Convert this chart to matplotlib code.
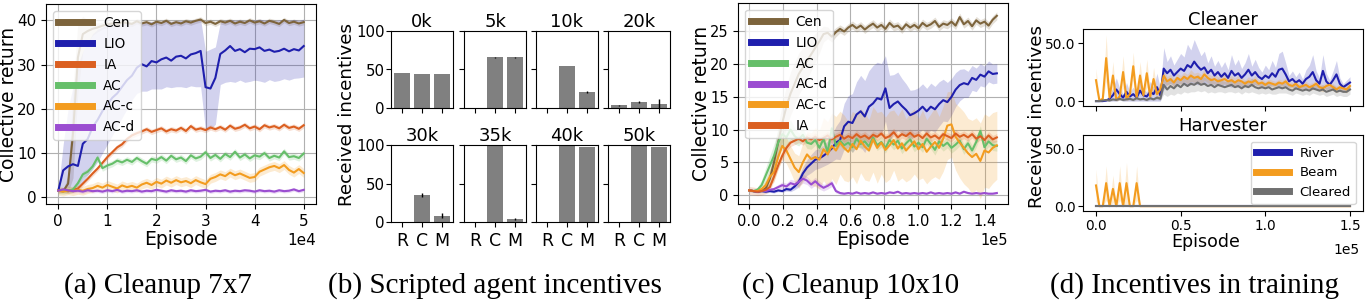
import numpy as np
import matplotlib

matplotlib.use("Agg")
import matplotlib.pyplot as plt
from matplotlib.ticker import FormatStrFormatter

W, H = 1365, 303

# ---------------- (a) Cleanup 7x7, one point every 1000 episodes ----------------
episodes_a = np.arange(51) * 1000
cen_a = [1.5, 1.4, 3.1, 14.4, 31.6, 36.9, 37.6, 38.1, 38.4, 38.8,
         39.1, 39.3, 39.0, 39.6, 39.4, 39.2, 39.8, 39.3, 39.6, 39.1,
         39.7, 39.4, 39.9, 39.2, 39.6, 39.3, 39.8, 39.5, 39.9, 40.2,
         39.4, 39.7, 39.2, 39.8, 39.5, 39.9, 39.3, 39.7, 39.4, 40.0,
         39.5, 39.8, 39.3, 39.9, 39.6, 39.2, 40.1, 39.4, 39.7, 39.3, 39.6]
cen_a_sd = [0.2, 0.3, 2.0, 10.0, 8.0, 4.0, 2.5, 1.5, 1.0, 0.8,
            0.7, 0.6, 0.6, 0.6, 0.6, 0.6, 0.6, 0.6, 0.6, 0.6,
            0.6, 0.6, 0.6, 0.6, 0.6, 0.6, 0.6, 0.6, 0.6, 0.6,
            0.6, 0.6, 0.6, 0.6, 0.6, 0.6, 0.6, 0.6, 0.6, 0.6,
            0.6, 0.6, 0.6, 0.6, 0.6, 0.6, 0.6, 0.6, 0.6, 0.6, 0.6]
lio_a = [1.5, 6.1, 7.0, 7.5, 7.1, 12.1, 13.2, 15.9, 17.5, 19.5,
         21.0, 22.5, 23.5, 25.0, 26.5, 27.5, 29.3, 30.1, 29.6, 30.8,
         30.5, 31.2, 31.6, 30.9, 31.8, 32.0, 31.4, 32.3, 32.6, 33.1,
         24.9, 24.6, 27.0, 32.4, 33.2, 34.2, 33.1, 33.5, 32.8, 33.6,
         33.5, 33.9, 33.1, 33.4, 32.9, 33.1, 33.6, 33.0, 33.5, 33.2, 34.2]
lio_a_lo = [1.2, 2.0, 2.2, 2.3, 2.5, 3.5, 5.0, 6.5, 8.0, 10.0,
            12.0, 14.0, 16.0, 18.0, 20.0, 22.0, 23.5, 24.0, 24.0, 24.5,
            24.5, 24.5, 25.0, 24.8, 25.0, 25.0, 24.8, 25.2, 25.0, 25.0,
            15.0, 15.5, 16.5, 25.5, 26.0, 26.2, 26.0, 26.5, 26.0, 26.2,
            26.5, 26.3, 26.0, 26.6, 26.2, 26.4, 26.8, 26.5, 26.9, 27.0, 27.2]
lio_a_hi = [1.8, 12.0, 20.0, 25.0, 30.0, 33.0, 35.0, 37.0, 38.0, 38.5,
            39.0, 39.0, 39.2, 39.3, 39.5, 39.5, 39.6, 39.8, 39.6, 39.8,
            39.7, 39.8, 39.9, 39.8, 39.9, 40.0, 39.8, 40.0, 40.1, 40.2,
            33.0, 33.5, 34.0, 39.5, 40.0, 40.2, 40.0, 40.1, 39.9, 40.2,
            40.1, 40.3, 40.0, 40.2, 39.9, 40.1, 40.3, 40.0, 40.2, 40.0, 40.3]
ia_a = [1.5, 1.6, 1.4, 1.7, 2.0, 3.1, 4.2, 5.4, 6.5, 7.8,
        9.1, 10.2, 11.3, 12.0, 13.2, 14.0, 14.5, 14.9, 15.4, 14.8,
        15.2, 15.6, 14.9, 15.4, 15.1, 15.7, 15.0, 16.1, 15.3, 15.6,
        15.2, 15.8, 15.4, 15.9, 15.3, 16.2, 15.5, 15.8, 16.4, 15.6,
        16.0, 15.4, 16.3, 15.8, 16.1, 15.6, 16.4, 15.7, 16.0, 15.5, 16.3]
ac_a = [1.5, 1.4, 1.6, 1.8, 3.2, 5.2, 5.8, 7.0, 9.0, 6.6,
        7.2, 7.6, 8.3, 7.9, 8.5, 8.0, 8.9, 8.2, 7.6, 8.7,
        8.4, 9.1, 8.3, 9.4, 8.6, 9.0, 8.2, 9.5, 8.8, 9.2,
        10.2, 8.9, 9.6, 8.7, 9.8, 9.1, 10.3, 9.0, 9.7, 8.8,
        9.5, 9.2, 10.0, 8.9, 9.4, 9.0, 10.4, 9.1, 9.3, 8.9, 9.9]
acc_a = [1.5, 1.3, 1.6, 1.4, 1.7, 1.5, 1.9, 2.1, 2.6, 2.2,
         2.8, 2.4, 2.0, 2.7, 2.3, 2.6, 2.2, 2.9, 3.3, 2.8,
         3.5, 3.1, 3.8, 3.3, 3.9, 3.4, 3.7, 3.2, 3.9, 3.4,
         3.0, 4.2, 4.6, 5.2, 4.8, 5.6, 5.0, 5.4, 4.9, 4.4,
         4.6, 5.8, 6.3, 6.8, 7.1, 6.6, 7.3, 6.2, 5.6, 6.4, 5.5]
acd_a = [1.5, 1.8, 1.6, 1.4, 1.5, 1.3, 1.6, 1.4, 1.5, 1.3,
         1.6, 1.4, 1.7, 1.3, 1.5, 1.4, 1.6, 1.3, 1.5, 1.4,
         1.7, 1.5, 1.3, 1.6, 1.4, 1.5, 1.3, 1.6, 1.4, 1.5,
         1.7, 1.3, 1.5, 1.4, 1.6, 1.3, 1.5, 1.4, 1.6, 1.5,
         1.3, 1.6, 1.4, 1.5, 1.3, 1.6, 1.4, 1.5, 1.8, 1.4, 1.7]
ia_a_sd, ac_a_sd, acc_a_sd, acd_a_sd = 0.6, 0.7, 1.0, 0.4

# ---------------- (b) Scripted agent incentives ----------------
snapshots = ["0k", "5k", "10k", "20k", "30k", "35k", "40k", "50k"]
recipients = ["R", "C", "M"]
incentive_mean = [[45.5, 44.2, 44.2], [0.0, 65.7, 65.7], [0.0, 54.5, 21.0],
                  [3.9, 7.7, 5.6], [0.0, 35.3, 8.2], [0.0, 100.0, 4.3],
                  [0.0, 100.0, 97.4], [0.0, 100.0, 97.4]]
incentive_err = [[0.3, 0.3, 0.3], [0.0, 0.5, 0.5], [0.0, 0.5, 1.2],
                 [0.6, 1.2, 6.0], [0.0, 2.5, 3.2], [0.0, 0.0, 1.2],
                 [0.0, 0.0, 0.5], [0.0, 0.0, 0.5]]

# ---------------- (c) Cleanup 10x10, one point every 2450 episodes ----------------
episodes_c = np.arange(61) * 2450
cen_c = [0.7, 0.6, 0.5, 0.7, 1.0, 2.5, 5.0, 8.0, 11.0, 13.5,
         15.5, 17.0, 18.5, 19.5, 20.5, 21.5, 22.5, 23.5, 24.6, 24.8,
         24.2, 24.9, 25.4, 25.0, 25.6, 26.0, 25.5, 25.9, 25.3, 25.8,
         26.2, 25.6, 26.0, 25.4, 26.3, 25.7, 25.9, 25.3, 26.1, 25.6,
         26.0, 25.5, 26.3, 25.8, 26.1, 26.6, 25.7, 26.2, 26.0, 26.5,
         25.9, 27.2, 26.1, 26.6, 25.8, 26.7, 26.2, 26.5, 25.9, 26.8, 27.4]
cen_c_sd = [0.1, 0.1, 0.1, 0.2, 0.4, 1.0, 1.8, 2.5, 3.0, 3.2,
            3.3, 3.3, 3.2, 3.0, 2.8, 2.5, 2.2, 1.8, 1.2, 0.9,
            0.8, 0.7, 0.6, 0.6, 0.6, 0.6, 0.6, 0.6, 0.6, 0.6,
            0.6, 0.6, 0.6, 0.6, 0.6, 0.6, 0.6, 0.6, 0.6, 0.6,
            0.6, 0.6, 0.6, 0.6, 0.6, 0.6, 0.6, 0.6, 0.6, 0.6,
            0.6, 0.6, 0.6, 0.6, 0.6, 0.6, 0.6, 0.6, 0.6, 0.6, 0.6]
lio_c = [0.7, 0.6, 0.5, 0.6, 0.5, 0.6, 0.5, 0.7, 0.6, 0.9,
         0.8, 1.3, 2.0, 3.3, 4.2, 4.8, 5.4, 5.6, 6.0, 6.5,
         7.1, 8.0, 8.4, 10.5, 11.2, 11.0, 12.3, 12.8, 12.0, 13.5,
         14.0, 14.8, 14.6, 16.3, 13.3, 13.9, 14.3, 13.6, 13.0, 12.2,
         12.5, 12.9, 13.5, 12.8, 13.5, 13.1, 13.9, 14.5, 14.2, 15.0,
         16.1, 16.8, 17.1, 16.9, 17.9, 17.6, 18.4, 18.1, 18.9, 18.5, 18.6]
lio_c_sd = [0.2, 0.2, 0.2, 0.2, 0.2, 0.2, 0.2, 0.2, 0.2, 0.3,
            0.3, 0.5, 0.8, 1.0, 1.2, 1.4, 1.5, 1.5, 1.6, 1.8,
            2.0, 2.5, 3.0, 3.5, 4.0, 4.5, 5.0, 5.5, 5.5, 5.5,
            5.8, 5.5, 5.5, 5.0, 5.0, 4.5, 4.5, 4.2, 4.0, 3.8,
            3.6, 3.5, 3.5, 3.5, 3.6, 3.5, 3.4, 3.2, 3.0, 2.8,
            2.6, 2.4, 2.2, 2.0, 1.9, 1.8, 1.7, 1.6, 1.6, 1.5, 1.5]
ac_c = [0.7, 0.6, 0.8, 1.5, 3.0, 4.5, 6.0, 8.0, 9.3, 8.8,
        10.0, 9.0, 8.5, 9.2, 8.0, 7.8, 8.4, 7.2, 8.6, 6.5,
        10.2, 7.5, 8.3, 7.6, 8.0, 7.3, 8.6, 7.8, 8.2, 7.4,
        8.8, 7.6, 8.1, 7.2, 8.4, 7.7, 8.3, 7.1, 7.9, 8.5,
        7.4, 8.0, 7.3, 8.6, 7.8, 6.9, 8.2, 7.5, 8.0, 7.2,
        7.7, 8.3, 7.0, 7.9, 6.8, 8.1, 9.8, 7.3, 8.2, 7.6, 7.5]
ac_c_sd = [0.1, 0.2, 0.4, 0.8, 1.2, 1.5, 1.8, 2.0, 2.0, 1.8,
           1.5, 1.2, 1.0, 1.0, 0.9, 0.8, 0.8, 0.8, 0.8, 0.8,
           0.8, 0.8, 0.8, 0.8, 0.8, 0.8, 0.8, 0.8, 0.8, 0.8,
           0.8, 0.8, 0.8, 0.8, 0.8, 0.8, 0.8, 0.8, 0.8, 0.8,
           0.8, 0.8, 0.8, 0.8, 0.8, 0.8, 0.8, 0.8, 0.8, 0.8,
           0.8, 0.8, 0.8, 0.8, 0.8, 0.8, 0.8, 0.8, 0.8, 0.8, 0.8]
acd_c = [0.7, 0.6, 0.5, 0.7, 0.6, 0.8, 0.9, 1.2, 1.5, 1.3,
         1.8, 1.6, 2.0, 2.5, 2.2, 1.6, 2.1, 1.5, 1.1, 1.4,
         1.8, 0.6, 0.3, 0.2, 0.3, 0.2, 0.4, 0.2, 0.3, 0.2,
         0.4, 0.2, 0.3, 0.2, 0.4, 0.3, 0.5, 0.2, 0.3, 0.2,
         0.3, 0.2, 0.3, 0.2, 0.4, 0.2, 0.3, 0.2, 0.3, 0.2,
         0.4, 0.2, 0.5, 0.3, 0.2, 0.3, 0.2, 0.3, 0.2, 0.2, 0.3]
acd_c_sd = [0.1, 0.1, 0.1, 0.1, 0.1, 0.2, 0.3, 0.4, 0.5, 0.5,
            0.6, 0.6, 0.6, 0.7, 0.6, 0.6, 0.6, 0.6, 0.5, 0.5,
            0.5, 0.3, 0.2, 0.15, 0.15, 0.15, 0.15, 0.15, 0.15, 0.15,
            0.15, 0.15, 0.15, 0.15, 0.15, 0.15, 0.15, 0.15, 0.15, 0.15,
            0.15, 0.15, 0.15, 0.15, 0.15, 0.15, 0.15, 0.15, 0.15, 0.15,
            0.15, 0.15, 0.15, 0.15, 0.15, 0.15, 0.15, 0.15, 0.15, 0.15, 0.15]
acc_c = [0.7, 0.6, 0.6, 0.9, 1.5, 2.8, 3.5, 5.8, 7.5, 6.8,
         5.5, 4.2, 3.5, 5.0, 6.2, 5.5, 5.8, 5.4, 7.0, 6.2,
         7.5, 6.8, 8.0, 7.2, 6.6, 7.8, 7.0, 8.3, 7.4, 6.8,
         8.5, 7.2, 8.0, 6.9, 7.6, 8.4, 7.1, 7.9, 6.8, 7.5,
         8.2, 7.0, 7.8, 6.6, 7.4, 8.1, 7.2, 8.6, 10.6, 10.8,
         8.9, 8.0, 7.2, 6.4, 5.8, 6.3, 5.2, 6.8, 6.5, 7.2, 7.6]
acc_c_sd = [0.1, 0.1, 0.2, 0.4, 0.8, 1.2, 1.5, 1.8, 2.0, 2.0,
            2.0, 2.2, 2.5, 3.0, 3.5, 4.0, 4.5, 4.5, 4.8, 5.0,
            5.0, 5.2, 4.8, 5.0, 4.6, 5.0, 5.3, 4.9, 5.1, 4.7,
            5.0, 5.4, 4.8, 5.0, 5.2, 4.6, 5.0, 5.3, 4.8, 5.1,
            5.0, 4.7, 5.2, 4.9, 5.0, 5.3, 4.8, 5.0, 5.2, 5.0,
            5.1, 5.4, 5.5, 5.3, 5.6, 5.5, 5.8, 5.6, 5.5, 5.4, 5.2]
ia_c = [0.7, 0.6, 0.5, 0.6, 0.8, 1.2, 2.8, 4.5, 6.0, 7.2,
        8.0, 8.3, 8.6, 8.2, 8.8, 8.5, 8.9, 8.4, 8.7, 9.1,
        8.5, 8.9, 9.2, 8.6, 9.0, 8.7, 9.3, 8.8, 9.1, 8.6,
        9.2, 8.9, 9.4, 8.7, 9.0, 9.6, 8.8, 9.3, 9.0, 9.5,
        8.9, 9.2, 8.7, 9.4, 8.8, 9.1, 8.6, 9.3, 9.0, 8.7,
        9.4, 8.9, 9.2, 8.8, 9.3, 8.6, 9.0, 8.4, 9.1, 8.5, 8.8]
ia_c_sd = 0.6

# ---------------- (d) Incentives in training, one point every 2000 episodes ----------------
episodes_d = np.arange(76) * 2000
clean_river = [0, 0, 0, 0.5, 2, 5, 10, 6, 3, 8,
               4, 6, 3, 9, 5, 4, 8, 6, 12, 5,
               28, 24, 27, 22, 25, 28, 26, 31, 29, 34,
               30, 27, 29, 24, 27, 22, 25, 21, 24, 20,
               26, 22, 24, 20, 23, 27, 22, 25, 21, 19,
               22, 20, 24, 21, 27, 28, 23, 17, 19, 16,
               18, 15, 19, 21, 25, 18, 15, 26, 17, 14,
               18, 23, 15, 12, 14, 16]
clean_river_sd = [0.2, 0.2, 0.3, 1, 3, 6, 10, 5, 3, 8,
                  4, 6, 3, 9, 5, 4, 9, 6, 12, 6,
                  18, 10, 12, 9, 11, 13, 12, 18, 15, 19,
                  16, 12, 14, 9, 12, 8, 10, 8, 10, 7,
                  14, 9, 12, 8, 10, 14, 8, 11, 8, 6,
                  9, 7, 11, 8, 14, 15, 10, 5, 7, 5,
                  7, 4, 8, 10, 15, 8, 5, 14, 7, 4,
                  8, 12, 5, 3, 4, 5]
clean_beam = [18, 0.5, 2, 37, 3, 22, 1, 4, 25, 2,
              6, 30, 3, 22, 5, 24, 4, 19, 6, 10,
              22, 17, 19, 16, 20, 18, 21, 19, 22, 20,
              21, 19, 23, 20, 18, 19, 17, 18, 19, 17,
              18, 16, 18, 17, 15, 17, 16, 18, 15, 16,
              14, 16, 15, 14, 16, 15, 17, 14, 13, 15,
              12, 13, 14, 12, 13, 15, 12, 11, 13, 14,
              12, 10, 12, 11, 10, 13]
clean_beam_sd = [10, 0.5, 2, 20, 2, 12, 1, 3, 14, 2,
                 4, 12, 2, 12, 3, 12, 3, 10, 4, 6,
                 6, 4, 4, 4, 4, 4, 4, 4, 5, 4,
                 4, 4, 5, 4, 4, 4, 4, 4, 4, 4,
                 4, 4, 4, 4, 3, 4, 3, 4, 3, 3,
                 3, 3, 3, 3, 3, 3, 3, 3, 3, 3,
                 3, 3, 3, 3, 3, 3, 3, 3, 3, 3,
                 3, 3, 3, 3, 3, 3]
clean_cleared = [0, 0, 0.5, 1, 0.5, 1.5, 1, 2, 1, 1.5,
                 2, 1, 2.5, 1.5, 2, 1, 2.5, 1.5, 3, 2,
                 14, 10, 13, 11, 14, 12, 15, 13, 15, 14,
                 16, 14, 15, 13, 14, 12, 14, 13, 12, 13,
                 14, 12, 13, 11, 13, 12, 14, 12, 11, 12,
                 11, 12, 10, 11, 12, 11, 12, 10, 9, 11,
                 10, 9, 10, 9, 11, 10, 9, 10, 8, 9,
                 10, 8, 9, 8, 8, 10]
clean_cleared_sd = [0.5, 0.5, 0.8, 1, 0.8, 1, 1, 1.2, 1, 1,
                    1.2, 1, 1.5, 1, 1.2, 1, 1.5, 1, 1.8, 1.5,
                    8, 6, 7, 6, 7, 6, 7, 6, 7, 6,
                    7, 6, 6, 6, 6, 5, 6, 5, 5, 5,
                    6, 5, 5, 5, 5, 5, 6, 5, 5, 5,
                    5, 5, 4, 5, 5, 4, 5, 4, 4, 4,
                    4, 4, 4, 4, 4, 4, 4, 4, 4, 4,
                    4, 4, 4, 4, 4, 4]
harv_river = [0, 0, 0, 0, 0, 0, 0, 0, 0, 0, 0, 0, 0, 0, 0, 0, 0, 0, 0, 0,
              0, 0, 0, 0, 0, 0, 0, 0, 0, 0, 0, 0, 0, 0, 0, 0, 0, 0, 0, 0,
              0, 0, 0, 0, 0, 0, 0, 0, 0, 0, 0, 0, 0, 0, 0, 0, 0, 0, 0, 0,
              0, 0, 0, 0, 0, 0, 0, 0, 0, 0, 0, 0, 0, 0, 0, 0]
harv_beam = [18, 0, 0, 20, 0, 15, 0, 20, 0, 20, 0, 0, 20, 0, 0, 0, 0, 0, 0, 0,
             0, 0, 0, 0, 0, 0, 0, 0, 0, 0, 0, 0, 0, 0, 0, 0, 0, 0, 0, 0,
             0, 0, 0, 0, 0, 0, 0, 0, 0, 0, 0, 0, 0, 0, 0, 0, 0, 0, 0, 0,
             0, 0, 0, 0, 0, 0, 0, 0, 0, 0, 0, 0, 0, 0, 0, 0]
harv_beam_sd = [14, 0, 0, 15, 0, 12, 0, 15, 0, 18, 0, 0, 15, 0, 0, 0, 0, 0, 0, 0,
                0, 0, 0, 0, 0, 0, 0, 0, 0, 0, 0, 0, 0, 0, 0, 0, 0, 0, 0, 0,
                0, 0, 0, 0, 0, 0, 0, 0, 0, 0, 0, 0, 0, 0, 0, 0, 0, 0, 0, 0,
                0, 0, 0, 0, 0, 0, 0, 0, 0, 0, 0, 0, 0, 0, 0, 0]
harv_cleared = [0, 0, 0, 0, 0, 0, 0, 0, 0, 0, 0, 0, 0, 0, 0, 0, 0, 0, 0, 0,
                0, 0, 0, 0, 0, 0, 0, 0, 0, 0, 0, 0, 0, 0, 0, 0, 0, 0, 0, 0,
                0, 0, 0, 0, 0, 0, 0, 0, 0, 0, 0, 0, 0, 0, 0, 0, 0, 0, 0, 0,
                0, 0, 0, 0, 0, 0, 0, 0, 0, 0, 0, 0, 0, 0, 0, 0]

captions = ["(a) Cleanup 7x7", "(b) Scripted agent incentives",
            "(c) Cleanup 10x10", "(d) Incentives in training"]

COLORS = {
    "Cen": "#7d643c",
    "LIO": "#1f1fad",
    "IA": "#db5f20",
    "AC": "#66bf6a",
    "AC-c": "#f39c1f",
    "AC-d": "#9b4dd1",
    "River": "#1f1fad",
    "Beam": "#f39c1f",
    "Cleared": "#707070",
}


def px_axes(fig, left, top, right, bottom):
    """Add axes from a pixel box (origin top-left)."""
    return fig.add_axes([left / W, 1 - bottom / H, (right - left) / W, (bottom - top) / H])


def draw_band(ax, x, mean, spread, color, label, lo=None, hi=None, clip0=False):
    mean = np.asarray(mean, dtype=float)
    if lo is None:
        spread = np.broadcast_to(np.asarray(spread, dtype=float), mean.shape)
        lo, hi = mean - spread, mean + spread
    lo = np.asarray(lo, dtype=float)
    if clip0:
        lo = np.maximum(lo, 0)
    ax.fill_between(x, lo, hi, color=color, alpha=0.2, lw=0)
    line, = ax.plot(x, mean, color=color, lw=1.5, label=label)
    return line


def thick_legend(ax, fontsize, **kw):
    leg = ax.legend(fontsize=fontsize, handlelength=2.5, **kw)
    for h in leg.legend_handles:
        h.set_linewidth(5)
    return leg


def main() -> None:
    fig = plt.figure(figsize=(W / 100, H / 100), dpi=100)

    # (a)
    ax = px_axes(fig, 46, 4, 316, 204)
    ax.set_axisbelow(True)
    ax.grid(True, color="#b0b0b0", lw=0.8)
    draw_band(ax, episodes_a, cen_a, cen_a_sd, COLORS["Cen"], "Cen")
    draw_band(ax, episodes_a, lio_a, None, COLORS["LIO"], "LIO", lo=lio_a_lo, hi=lio_a_hi)
    draw_band(ax, episodes_a, ia_a, ia_a_sd, COLORS["IA"], "IA")
    draw_band(ax, episodes_a, ac_a, ac_a_sd, COLORS["AC"], "AC")
    draw_band(ax, episodes_a, acc_a, acc_a_sd, COLORS["AC-c"], "AC-c")
    draw_band(ax, episodes_a, acd_a, acd_a_sd, COLORS["AC-d"], "AC-d")
    ax.set_xlim(-2500, 52500)
    ax.set_ylim(-1.5, 43.7)
    ax.set_xticks(np.arange(0, 50001, 10000))
    ax.set_yticks([0, 10, 20, 30, 40])
    ax.ticklabel_format(axis="x", style="sci", scilimits=(0, 0))
    ax.tick_params(labelsize=11)
    ax.xaxis.get_offset_text().set_fontsize(11)
    ax.set_xlabel("Episode", fontsize=13.5, labelpad=1)
    ax.set_ylabel("Collective return", fontsize=13.5)
    ax.yaxis.set_label_coords(-0.103, 0.5)
    thick_legend(ax, 9.8, loc="upper left")

    # (b)
    lefts = [391, 464, 536, 608]
    rows = [(30.7, 108.3), (145, 222.3)]
    xs = np.arange(len(recipients))
    for i, name in enumerate(snapshots):
        r, c = divmod(i, 4)
        top, bottom = rows[r]
        bx = px_axes(fig, lefts[c], top, lefts[c] + 62, bottom)
        bx.bar(xs, incentive_mean[i], width=0.8, color="#808080",
               yerr=incentive_err[i], error_kw=dict(ecolor="black", elinewidth=1, capsize=0))
        bx.set_ylim(0, 100)
        bx.set_xlim(-0.54, 2.54)
        bx.set_yticks([0, 50, 100])
        bx.set_xticks(xs)
        bx.set_xticklabels(recipients if r == 1 else [])
        if c != 0:
            bx.set_yticklabels([])
        bx.tick_params(axis="y", labelsize=10.8, pad=1)
        bx.tick_params(axis="x", labelsize=12.5)
        bx.set_title(name, fontsize=13, pad=3)
    fig.text(356 / W, 1 - 115 / H, "Received incentives", rotation=90,
             ha="right", va="center", fontsize=13.2)

    # (c)
    cx = px_axes(fig, 738.3, 2.7, 1008.3, 204)
    cx.set_axisbelow(True)
    cx.grid(True, color="#b0b0b0", lw=0.8)
    draw_band(cx, episodes_c, cen_c, cen_c_sd, COLORS["Cen"], "Cen")
    draw_band(cx, episodes_c, lio_c, lio_c_sd, COLORS["LIO"], "LIO")
    draw_band(cx, episodes_c, ac_c, ac_c_sd, COLORS["AC"], "AC")
    draw_band(cx, episodes_c, acd_c, acd_c_sd, COLORS["AC-d"], "AC-d")
    draw_band(cx, episodes_c, acc_c, acc_c_sd, COLORS["AC-c"], "AC-c")
    draw_band(cx, episodes_c, ia_c, ia_c_sd, COLORS["IA"], "IA")
    cx.set_xlim(-6500, 153800)
    cx.set_ylim(-1.38, 29.4)
    cx.set_xticks(np.arange(0, 140001, 20000))
    cx.set_yticks([0, 5, 10, 15, 20, 25])
    cx.ticklabel_format(axis="x", style="sci", scilimits=(0, 0))
    cx.tick_params(labelsize=10.5)
    cx.xaxis.get_offset_text().set_fontsize(10.5)
    cx.set_xlabel("Episode", fontsize=13.5, labelpad=1)
    cx.set_ylabel("Collective return", fontsize=13.5)
    cx.yaxis.set_label_coords(-0.102, 0.5)
    thick_legend(cx, 9.8, loc="upper left")

    # (d)
    d_sets = [
        ("Cleaner", 29.3, 106, [(clean_river, clean_river_sd), (clean_beam, clean_beam_sd),
                                (clean_cleared, clean_cleared_sd)]),
        ("Harvester", 135, 211, [(harv_river, 0.0), (harv_beam, harv_beam_sd),
                                 (harv_cleared, 0.0)]),
    ]
    for k, (title, top, bottom, series) in enumerate(d_sets):
        dx = px_axes(fig, 1083.3, top, 1362.7, bottom)
        for name, (mean, sd) in zip(["River", "Beam", "Cleared"], series):
            draw_band(dx, episodes_d, mean, sd, COLORS[name], name, clip0=True)
        dx.set_xlim(-7500, 157500)
        dx.set_ylim(-4.2, 61.8)
        dx.set_yticks([0, 50])
        dx.yaxis.set_major_formatter(FormatStrFormatter("%.1f"))
        dx.set_xticks([0, 50000, 100000, 150000])
        dx.tick_params(labelsize=9.8, pad=2)
        dx.set_title(title, fontsize=13, pad=2.5)
        if k == 0:
            dx.set_xticklabels([])
        else:
            dx.set_xticklabels(["0.0", "0.5", "1.0", "1.5"])
            thick_legend(dx, 9.5, loc="upper right")
    fig.text(1046 / W, 1 - 116 / H, "Received incentives", rotation=90,
             ha="right", va="center", fontsize=13.2)
    fig.text(1206 / W, 1 - 247 / H, "Episode", ha="center", va="baseline", fontsize=12.5)
    fig.text(1360 / W, 1 - 254 / H, "1e5", ha="right", va="baseline", fontsize=10)

    # captions
    for text, cxp in zip(captions, [158, 495, 851, 1195]):
        fig.text(cxp / W, 1 - 293 / H, text, ha="center", va="baseline",
                 fontsize=21, family="Liberation Serif")

    fig.savefig("out.png", dpi=100)
    plt.close(fig)


if __name__ == "__main__":
    main()
